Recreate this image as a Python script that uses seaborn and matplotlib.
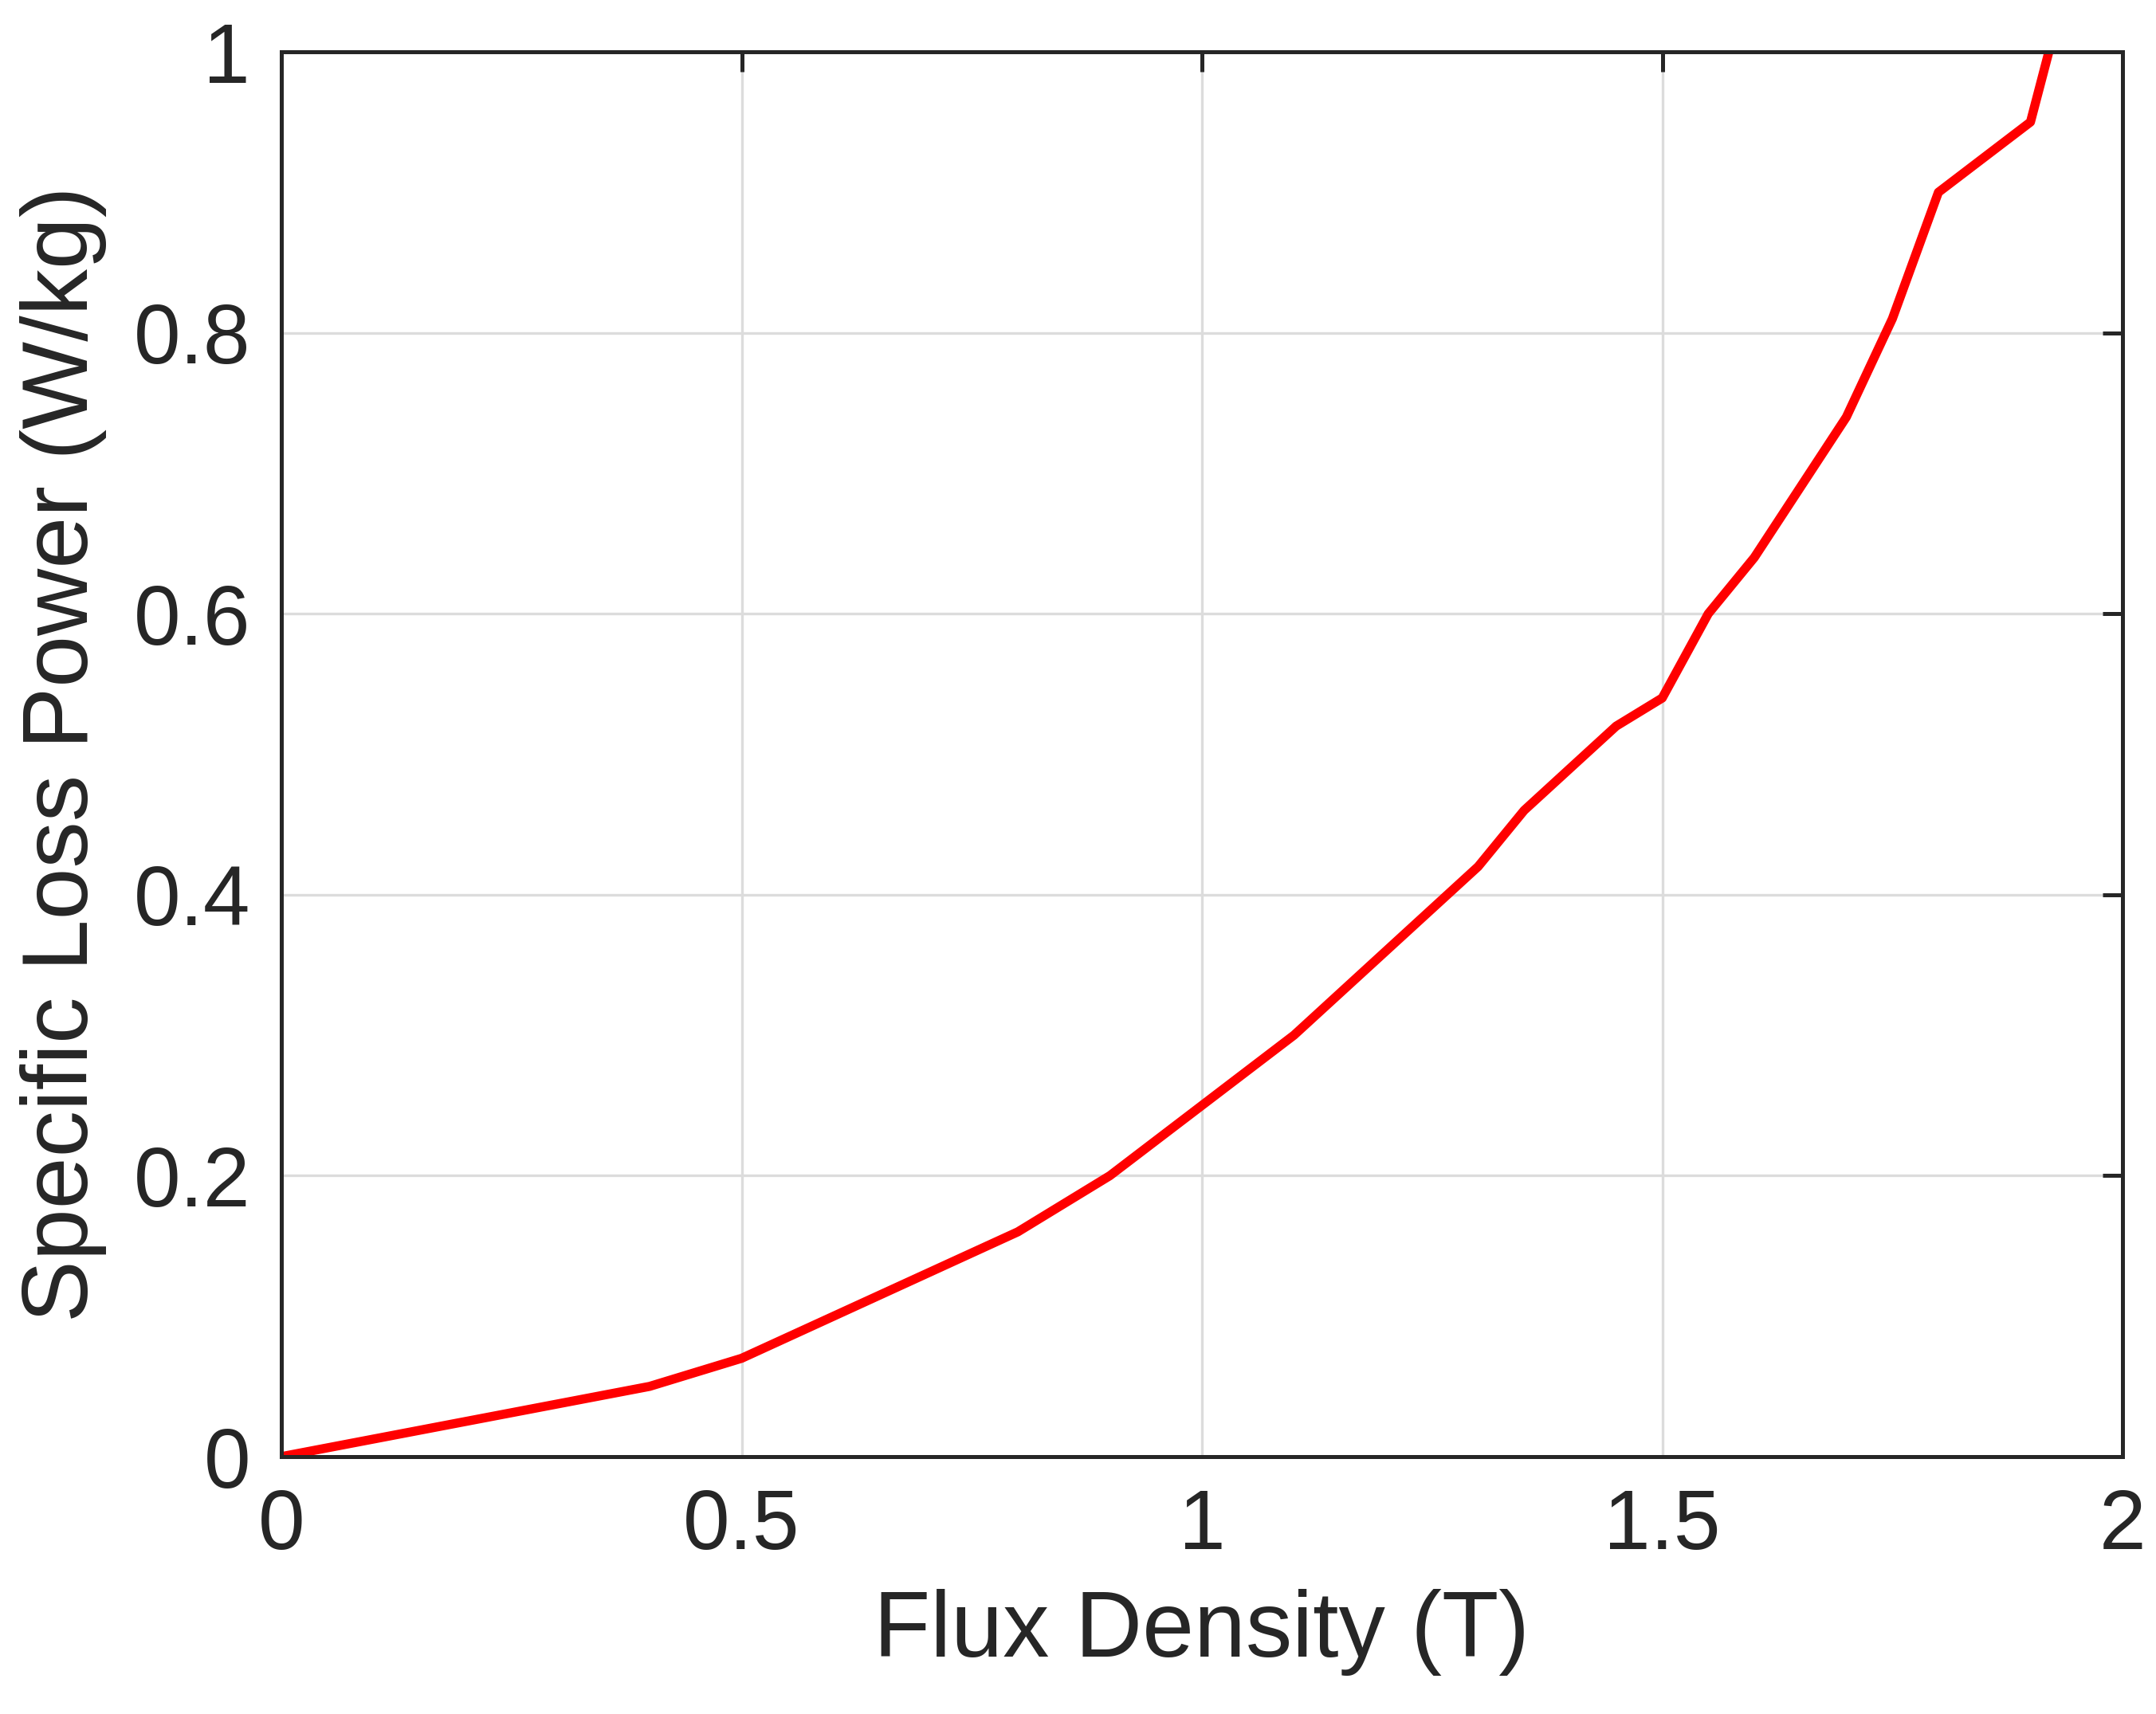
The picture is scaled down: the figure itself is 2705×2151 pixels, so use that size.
import matplotlib
matplotlib.use("Agg")
import matplotlib.pyplot as plt
import seaborn as sns
import pandas as pd
from matplotlib.ticker import FuncFormatter

# Data
flux_density = [0, 0.4, 0.5, 0.8, 0.9, 1.0, 1.1, 1.3, 1.35, 1.4, 1.45, 1.5,
                1.55, 1.6, 1.7, 1.75, 1.8, 1.9, 2.0]
loss_power = [0, 0.05, 0.07, 0.16, 0.2, 0.25, 0.3, 0.42, 0.46, 0.49, 0.52, 0.54,
              0.6, 0.64, 0.74, 0.81, 0.9, 0.95, 1.2]
x_ticks = [0, 0.5, 1, 1.5, 2]
y_ticks = [0, 0.2, 0.4, 0.6, 0.8, 1]
x_label = "Flux Density (T)"
y_label = "Specific Loss Power (W/kg)"

df = pd.DataFrame({"B": flux_density, "P": loss_power})

sns.set_theme(style="white")
plt.rcParams["font.family"] = ["Liberation Sans", "DejaVu Sans"]

dark = "#262626"
fig = plt.figure(figsize=(2705 / 200, 2151 / 200), dpi=200)
ax = fig.add_axes([353 / 2705, 1 - 1828 / 2151, (2663 - 353) / 2705, (1828 - 65) / 2151])

sns.lineplot(data=df, x="B", y="P", color="#ff0000", linewidth=4.1, sort=False,
             ax=ax, legend=False)

ax.set_xlim(0, 2)
ax.set_ylim(0, 1)
ax.set_xticks(x_ticks)
ax.set_yticks(y_ticks)
fmt = FuncFormatter(lambda v, p: f"{v:g}")
ax.xaxis.set_major_formatter(fmt)
ax.yaxis.set_major_formatter(fmt)

ax.grid(True, color="#dcdcdc", linewidth=1.2)
ax.set_axisbelow(True)
for s in ax.spines.values():
    s.set_visible(True)
    s.set_color(dark)
    s.set_linewidth(1.8)

ax.tick_params(direction="in", length=9, width=1.8, top=True, right=True,
               color=dark, labelcolor=dark, labelsize=38)
ax.tick_params(axis="x", pad=14)
ax.tick_params(axis="y", pad=14)

ax.set_xlabel(x_label, fontsize=42, color=dark, labelpad=10)
ax.set_ylabel(y_label, fontsize=42, color=dark, labelpad=12)

fig.savefig("out.png", dpi=200)
